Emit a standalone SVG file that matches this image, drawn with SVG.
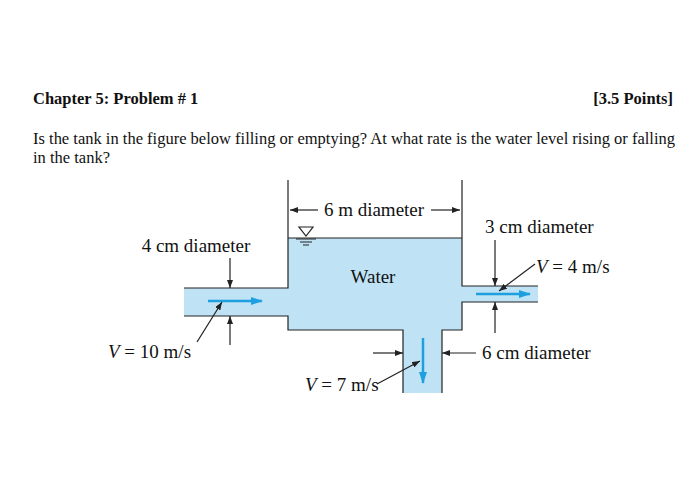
<svg xmlns="http://www.w3.org/2000/svg" width="700" height="486" viewBox="0 0 700 486">
<style>
text{font-family:"Liberation Serif","Times New Roman",serif;fill:#111}
.t{font-size:16.5px}
.d{font-size:19px}
.k{stroke:#222;stroke-width:1.2;fill:none}
.b{stroke:#1ea0e0;stroke-width:2.5;fill:none}
</style>
<defs>
<marker id="ah" markerWidth="8" markerHeight="6" refX="8" refY="3" orient="auto" markerUnits="userSpaceOnUse"><path d="M0,0L8,3L0,6z" fill="#222"/></marker>
<marker id="bh" markerWidth="12" markerHeight="8" refX="11" refY="4" orient="auto" markerUnits="userSpaceOnUse"><path d="M0,0L12,4L0,8z" fill="#1ea0e0"/></marker>
</defs>
<rect width="700" height="486" fill="#fff"/>
<text x="33" y="104" style="font-size:16.5px;font-weight:bold">Chapter 5: Problem # 1</text>
<text x="673" y="104" text-anchor="end" style="font-size:16.5px;font-weight:bold">[3.5 Points]</text>
<text class="t" x="33" y="144" textLength="642" lengthAdjust="spacing">Is the tank in the figure below filling or emptying? At what rate is the water level rising or falling</text>
<text class="t" x="33" y="163">in the tank?</text>
<g id="tank">
<path d="M184,288H288V238H462V286H538V302H462V330H442V393H403V330H288V316H184Z" fill="#bfe3f5"/>
<path class="k" d="M184,288H288V180M288,238H462M462,180V286H538M538,302H462V330H442V393M403,393V330H288V316H184"/>
<path d="M299,227h14l-7,9z" fill="none" stroke="#222" stroke-width="1.2"/>
<path class="k" d="M296,239h20M300,242h12M303,245h6"/>
<text class="d" x="373" y="283" text-anchor="middle">Water</text>
</g>
<g id="connectors">
<path class="b" d="M208,301H262" marker-end="url(#bh)"/>
<path class="b" d="M476,294H530" marker-end="url(#bh)"/>
<path class="b" d="M423,338V383" marker-end="url(#bh)"/>
<path class="k" d="M318,210H290" marker-end="url(#ah)"/>
<path class="k" d="M431,210H460" marker-end="url(#ah)"/>
<path class="k" d="M230,258V288" marker-end="url(#ah)"/>
<path class="k" d="M230,345V316" marker-end="url(#ah)"/>
<path class="k" d="M197,342L222,302" marker-end="url(#ah)"/>
<path class="k" d="M495,240V286" marker-end="url(#ah)"/>
<path class="k" d="M495,333V302" marker-end="url(#ah)"/>
<path class="k" d="M535,264L499,291" marker-end="url(#ah)"/>
<path class="k" d="M373,353H403" marker-end="url(#ah)"/>
<path class="k" d="M476,353H442" marker-end="url(#ah)"/>
<path class="k" d="M377,384L420,361" marker-end="url(#ah)"/>
</g>
<g id="labels">
<text class="d" x="374" y="216" text-anchor="middle">6 m diameter</text>
<text class="d" x="196" y="252" text-anchor="middle">4 cm diameter</text>
<text class="d" x="485" y="233">3 cm  diameter</text>
<text class="d" x="536" y="273"><tspan font-style="italic">V</tspan> = 4 m/s</text>
<text class="d" x="108" y="358"><tspan font-style="italic">V</tspan> = 10 m/s</text>
<text class="d" x="482" y="359">6 cm diameter</text>
<text class="d" x="305" y="391"><tspan font-style="italic">V</tspan> = 7 m/s</text>
</g>
</svg>
